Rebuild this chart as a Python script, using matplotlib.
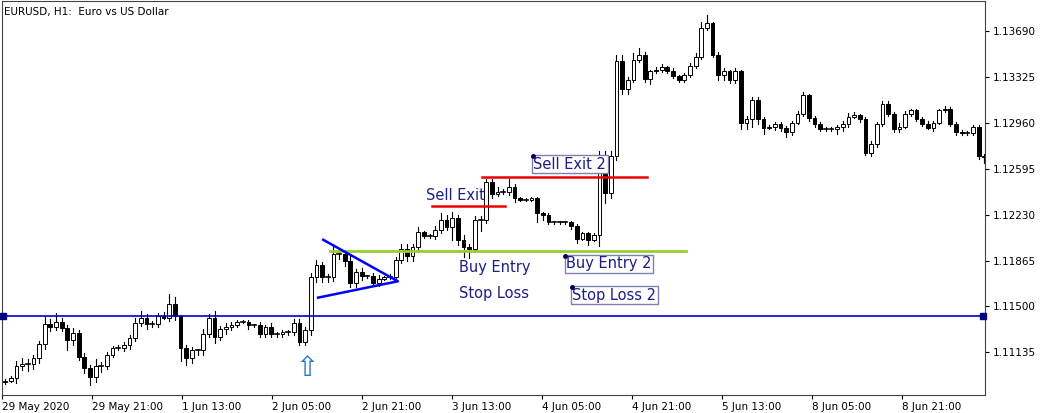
import matplotlib
matplotlib.use("Agg")
import matplotlib.pyplot as plt
from matplotlib.patches import Rectangle

closes = [
 1.1091,1.1093,1.1103,1.1104,1.1104,1.1109,1.1120,1.1136,1.1134,1.1138,
 1.1133,1.1123,1.1129,1.1110,1.1101,1.1094,1.1103,1.1103,1.1111,1.1117,
 1.1117,1.1119,1.1125,1.1137,1.1141,1.1136,1.1136,1.1142,1.1141,1.1152,
 1.1142,1.1117,1.1109,1.1115,1.1115,1.1128,1.1141,1.1126,1.1132,1.1134,
 1.1135,1.1138,1.1138,1.1135,1.1135,1.1128,1.1134,1.1128,1.1128,1.1130,
 1.1130,1.1137,1.1122,1.1131,1.1173,
 1.1183,1.1173,1.1173,1.1192,1.1192,1.1186,1.1169,1.1177,1.1174,1.1174,
 1.1169,1.1172,1.1173,1.1173,1.1187,1.1196,1.1190,1.1197,1.1209,1.1206,
 1.1206,1.1211,1.1219,1.1213,1.1220,1.1203,1.1197,1.1196,1.1219,1.1219,
 1.1249,1.1239,1.1241,1.1241,1.1245,1.1236,1.1235,1.1235,1.1236,1.1224,
 1.1223,1.1217,1.1217,1.1217,1.1217,1.1214,1.1204,1.1208,1.1203,1.1207,
 1.1270,1.1240,1.1270,
 1.1345,1.1323,1.1330,1.1346,1.1350,1.1331,1.1337,1.1338,1.1340,1.1337,
 1.1333,1.1330,1.1334,1.1341,1.1348,1.1371,1.1375,1.1350,1.1334,1.1337,
 1.1330,1.1337,1.1296,1.1299,1.1314,1.1299,1.1292,1.1293,1.1295,1.1292,
 1.1289,1.1296,1.1303,1.1318,1.1300,1.1295,1.1291,1.1291,1.1291,1.1293,
 1.1295,1.1301,1.1302,1.1299,1.1272,1.1279,1.1295,1.1311,1.1303,1.1291,
 1.1293,1.1303,1.1306,1.1299,1.1295,1.1292,1.1296,1.1306,1.1307,1.1295,
 1.1289,1.1288,1.1288,1.1293,1.1270,1.1269]
first_open = 1.1090
wick_up_pips = [
 1,1,3,4,3,2,2,4,3,5,2,2,3,2,2,2,4,2,2,1,2,2,2,3,4,2,2,2,3,6,4,1,2,2,1,3,2,4,2,2,2,1,1,1,1,2,1,2,1,1,1,2,2,2,3,
 3,2,2,5,2,2,3,2,3,1,2,2,1,2,2,3,3,2,3,1,1,2,4,3,4,2,3,2,2,2,2,2,3,2,5,2,1,1,1,1,1,1,1,1,1,1,1,1,1,1,3,3,3,
 4,4,2,4,4,2,1,2,2,1,2,1,1,2,3,4,5,1,2,2,1,2,1,2,2,2,1,1,1,1,1,1,2,2,1,1,1,1,1,1,2,2,2,1,1,2,1,2,2,1,2,2,1,1,1,2,1,1,2,1,1,1,1,1,1,1]
wick_dn_pips = [
 1,1,3,3,4,3,3,3,3,2,2,6,3,2,3,5,3,4,2,1,1,2,2,2,2,3,2,2,1,2,2,8,4,3,3,3,2,4,2,3,2,1,1,2,1,2,2,2,2,2,2,2,2,2,3,
 3,3,3,2,3,3,3,3,2,1,2,2,1,1,1,2,3,3,2,1,1,2,2,2,8,3,6,6,2,7,2,2,1,1,2,2,1,1,1,5,3,1,1,1,1,2,3,1,3,1,7,6,3,
 3,3,3,1,1,2,3,1,1,1,1,1,1,1,1,1,1,1,3,3,2,2,4,4,5,3,4,1,2,2,3,2,1,1,2,2,1,1,1,3,3,2,1,2,1,2,2,1,1,2,2,1,1,1,1,1,2,1,1,1,2,1,1,1,2,4]
date_labels = ["29 May 2020","29 May 21:00","1 Jun 13:00","2 Jun 05:00","2 Jun 21:00",
               "3 Jun 13:00","4 Jun 05:00","4 Jun 21:00","5 Jun 13:00","8 Jun 05:00","8 Jun 21:00"]
price_ticks = [1.13690,1.13325,1.12960,1.12595,1.12230,1.11865,1.11500,1.11135]

support_level = 1.1142
buy_level = 1.1194
sell_exit1 = (75.4, 88.3, 1.1230)
sell_exit2 = (84.3, 113.4, 1.1253)
triangle = [(56.2,1.1203),(69.4,1.1170),(55.3,1.1157)]

fig = plt.figure(figsize=(10.4,4.13), dpi=100)
ax = fig.add_axes([0.002, 0.044, 0.945, 0.954])
n = len(closes)
opens = [first_open] + closes[:-1]
for i in range(n):
    o, c = opens[i], closes[i]
    hi = max(o,c) + wick_up_pips[i]*0.00013
    lo = min(o,c) - wick_dn_pips[i]*0.00013
    ax.plot([i,i],[lo,hi], color='black', lw=0.8, zorder=2)
    bh = abs(c-o)
    if bh < 0.00003:
        ax.plot([i-0.35,i+0.35],[c,c], color='black', lw=1.2, zorder=3)
    else:
        fc = 'white' if c > o else 'black'
        ax.add_patch(Rectangle((i-0.33, min(o,c)), 0.66, bh, facecolor=fc,
                               edgecolor='black', lw=0.7, zorder=3))

ax.axhline(support_level, color='#0000cc', lw=1.2, zorder=4)
ax.plot([-0.3,172.8],[support_level]*2, 's', color='#000080', ms=4, zorder=5, clip_on=False)
ax.plot([57.4,120.3],[buy_level]*2, color='#9acd32', lw=2, zorder=4)
for a,b,l in (sell_exit1, sell_exit2):
    ax.plot([a,b],[l,l], color='#ee0000', lw=1.8, zorder=4)
t = triangle
ax.plot([t[0][0],t[1][0],t[2][0]],[t[0][1],t[1][1],t[2][1]], color='#0000ff', lw=1.8, zorder=4)

tc = '#1c1c8a'
ax.text(74.4,1.1238,"Sell Exit", color=tc, fontsize=10.5, va='center', zorder=6)
ax.text(80.2,1.1181,"Buy Entry", color=tc, fontsize=10.5, va='center', zorder=6)
ax.text(80.2,1.1160,"Stop Loss", color=tc, fontsize=10.5, va='center', zorder=6)
bbox = dict(boxstyle='square,pad=0.1', fc='white', ec='#8080b0', lw=1)
for x,y,s in [(93.3,1.1263,"Sell Exit 2"),(99.1,1.1184,"Buy Entry 2"),(100.2,1.1159,"Stop Loss 2")]:
    ax.text(x,y,s,color=tc,fontsize=10.5,va='center',bbox=bbox,zorder=6)
    ax.plot([x-0.1],[y+0.00063],'o',color='#000050',ms=2.5,zorder=7)
ax.text(53.4,1.1101,"⇧",color='#1e78c8',fontsize=20,ha='center',va='center',zorder=6)

ax.set_xlim(-0.53, 173.1)
ax.set_ylim(1.10797, 1.1393)
xt = [-0.5 + 15.9*k for k in range(len(date_labels))]
ax.set_xticks(xt)
ax.set_xticklabels(date_labels, ha='left', fontsize=7.5)
ax.tick_params(axis='x', length=3, pad=2)
ax.yaxis.tick_right()
ax.set_yticks(price_ticks)
ax.set_yticklabels([f"{p:.5f}" for p in price_ticks], fontsize=7.5)
ax.tick_params(axis='y', length=3, pad=3)
for s in ax.spines.values():
    s.set_color('#444444'); s.set_linewidth(0.8)
ax.text(0.002,0.985,"EURUSD, H1:  Euro vs US Dollar", transform=ax.transAxes, fontsize=7.5, va='top')
fig.savefig("out.png", dpi=100)
